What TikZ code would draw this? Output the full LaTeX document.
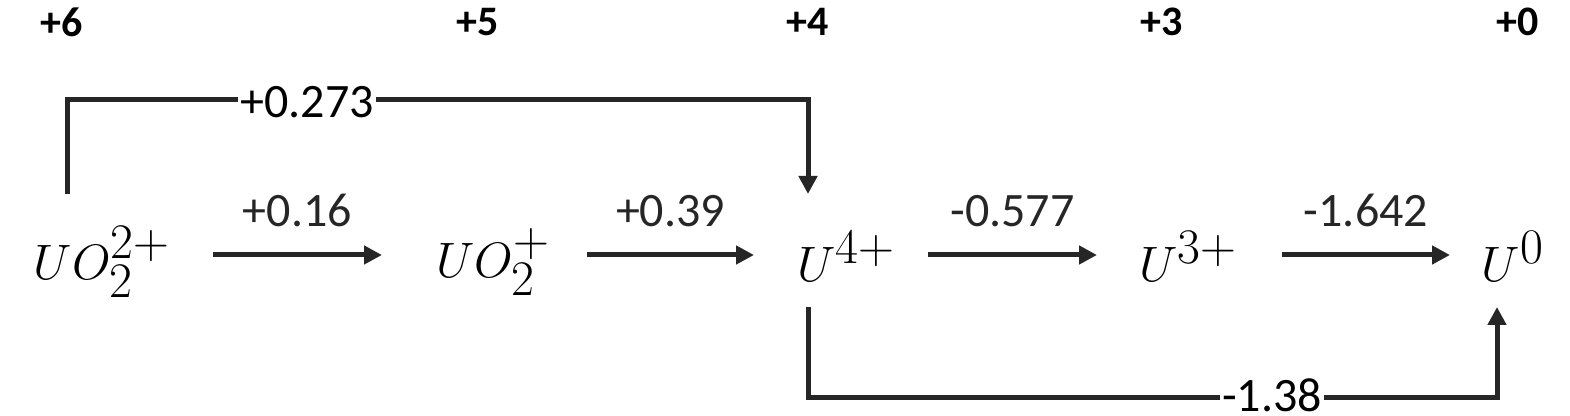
\documentclass[tikz,border=0pt]{standalone}
\usepackage{fontspec}
\setmainfont{Carlito}
\usetikzlibrary{arrows.meta}
\begin{document}
\begin{tikzpicture}[x=0.5pt,y=-0.5pt,
  ox/.style={font=\fontsize{21}{24}\selectfont\bfseries},
  sp/.style={font=\fontsize{50}{56}\selectfont, inner sep=0pt},
  lb/.style={font=\fontsize{24}{26}\selectfont, inner sep=1pt},
  ar/.style={line width=2.5pt,-{Triangle[length=9pt,width=9pt]}, color=black!85}]
\useasboundingbox (0,0) rectangle (1570,416);
\node[ox] (o6) at (62,22) {+6};
\node[ox] (o5) at (478,22) {+5};
\node[ox] (o4) at (808,22) {+4};
\node[ox] (o3) at (1162,22) {+3};
\node[ox] (o0) at (1518,22) {+0};
\node[sp] (s6) at (102,262) {$UO_2^{2+}$};
\node[sp] (s5) at (493,262) {$UO_2^{+}$};
\node[sp] (s4) at (846,256) {$U^{4+}$};
\node[sp] (s3) at (1188,256) {$U^{3+}$};
\node[sp] (s0) at (1513,256) {$U^{0}$};
\coordinate (a1) at (213,255); \coordinate (b1) at (382,255);
\coordinate (a2) at (587,255); \coordinate (b2) at (754,255);
\coordinate (a3) at (928,255); \coordinate (b3) at (1097,255);
\coordinate (a4) at (1282,255); \coordinate (b4) at (1450,255);
\draw[ar] (a1) -- node[lb,above=12pt]{+0.16} (b1);
\draw[ar] (a2) -- node[lb,above=12pt]{+0.39} (b2);
\draw[ar] (a3) -- node[lb,above=12pt]{-0.577} (b3);
\draw[ar] (a4) -- node[lb,above=12pt]{-1.642} (b4);
\coordinate (t0) at (67,194); \coordinate (t1) at (808,194);
\coordinate (u0) at (808,307); \coordinate (u1) at (1497,307);
\draw[ar] (t0) -- (67,100) -- (808,100) -- (t1);
\node[lb,fill=white] (l1) at (307,102) {+0.273};
\draw[ar] (u0) -- (808,398) -- (1497,398) -- (u1);
\node[lb,fill=white] (l2) at (1272,395) {-1.38};
\end{tikzpicture}
\end{document}
